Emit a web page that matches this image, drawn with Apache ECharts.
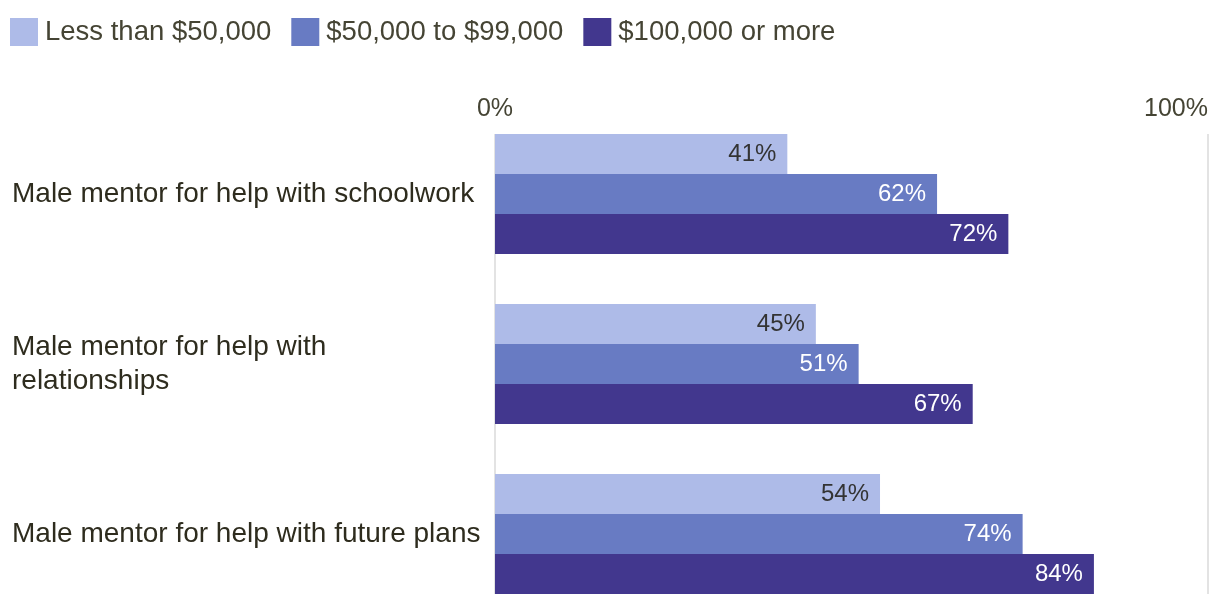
<!DOCTYPE html>
<html>
<head>
<meta charset="utf-8">
<script src="https://cdn.jsdelivr.net/npm/echarts@6/dist/echarts.min.js"></script>
<style>
  html, body { margin: 0; padding: 0; background: #fff; }
  #main { width: 1220px; height: 604px; }
</style>
</head>
<body>
<div id="main"></div>
<script>
var categories = [
	'Male mentor for help with schoolwork',
	'Male mentor for help with\nrelationships',
	'Male mentor for help with future plans'
];
var seriesNames = ['Less than $50,000', '$50,000 to $99,000', '$100,000 or more'];
var lowIncome = [41, 45, 54];
var midIncome = [62, 51, 74];
var highIncome = [72, 67, 84];
var ruleValues = [0, 100];

var colors = ['#aebbe8', '#687bc3', '#42378e'];
var labelColors = ['#333333', '#ffffff', '#ffffff'];
var font = '"Liberation Sans", Arial, sans-serif';
var gapRatio = 50 / 170;

var chart = echarts.init(document.getElementById('main'));

function barSeries(i, values) {
	return {
		name: seriesNames[i],
		type: 'bar',
		data: values,
		barGap: 0,
		barCategoryGap: (gapRatio * 100).toFixed(2) + '%',
		itemStyle: { color: colors[i] },
		label: {
			show: true,
			position: 'insideRight',
			distance: 11,
			formatter: '{c}%',
			color: labelColors[i],
			fontFamily: font,
			fontSize: 24
		},
		silent: true
	};
}

var option = {
	animation: false,
	color: colors,
	legend: {
		left: 10,
		top: 18,
		padding: 0,
		itemWidth: 28,
		itemHeight: 28,
		itemGap: 20,
		icon: 'rect',
		data: seriesNames,
		textStyle: {
			fontFamily: font,
			fontSize: 27.5,
			color: '#454434',
			padding: [0, 0, 0, 2]
		}
	},
	grid: {
		left: 495,
		right: 12,
		top: 109,
		height: 510,
		outerBoundsMode: 'none'
	},
	xAxis: {
		type: 'value',
		position: 'top',
		min: 0,
		max: 100,
		interval: 100,
		axisLine: { show: false },
		axisTick: { show: false },
		splitLine: { show: false },
		axisLabel: {
			formatter: '{value}%',
			fontFamily: font,
			fontSize: 25,
			color: '#454434',
			margin: 0,
			verticalAlign: 'middle',
			alignMaxLabel: 'right'
		}
	},
	yAxis: {
		type: 'category',
		inverse: true,
		data: categories,
		axisLine: { show: false },
		axisTick: { show: false },
		axisLabel: {
			align: 'left',
			margin: 483,
			fontFamily: font,
			fontSize: 28,
			lineHeight: 34,
			color: '#2e2c1e'
		}
	},
	series: [
		{
			type: 'custom',
			silent: true,
			z: 1,
			data: ruleValues.map(function (v) { return [v, 0]; }),
			renderItem: function (params, api) {
				var x = api.coord([api.value(0), 0])[0];
				var band = api.size([0, 1])[1];
				var half = band * (1 - gapRatio) / 2;
				var yTop = api.coord([0, 0])[1] - half;
				var yBot = api.coord([0, categories.length - 1])[1] + half;
				return {
					type: 'line',
					shape: { x1: x, y1: yTop, x2: x, y2: yBot },
					style: { stroke: '#e3e3e3', lineWidth: 2 }
				};
			}
		},
		barSeries(0, lowIncome),
		barSeries(1, midIncome),
		barSeries(2, highIncome)
	]
};

chart.setOption(option);
</script>
</body>
</html>
